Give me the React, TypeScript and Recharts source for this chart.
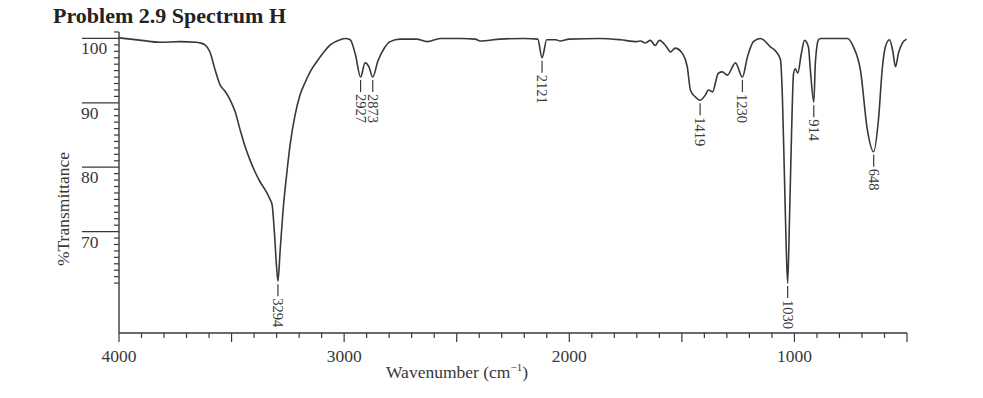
import React from "react";
import { ComposedChart, Line, Scatter, XAxis, YAxis } from "recharts";

const wavenumbers = [
  4000, 3900, 3818, 3729, 3660, 3640, 3618, 3596, 3573, 3551, 3529, 3507, 3484, 3462, 3440, 3418, 3396, 3373,
  3351, 3329, 3320, 3310, 3300, 3294, 3284, 3271, 3253, 3240, 3218, 3196, 3173, 3151, 3107, 3062, 3018, 2996,
  2973, 2950, 2927, 2907, 2890, 2873, 2850, 2820, 2796, 2751, 2680, 2631, 2573, 2480, 2418, 2396, 2307, 2200,
  2140, 2121, 2100, 2060, 2040, 2000, 1862, 1773, 1700, 1684, 1662, 1640, 1618, 1600, 1570, 1551, 1529, 1493,
  1476, 1462, 1440, 1419, 1396, 1382, 1364, 1338, 1320, 1298, 1262, 1231, 1209, 1182, 1151, 1107, 1076, 1062,
  1053, 1044, 1036, 1030, 1022, 1013, 1004, 996, 985, 970, 955, 938, 929, 914, 907, 893, 884, 764, 738, 707,
  676, 648, 627, 609, 596, 578, 564, 551, 538, 520, 502,
];
const transmittance = [
  100.1, 99.7, 99.4, 99.5, 99.4, 99.3, 99.0, 97.9, 95.1, 92.8, 91.8, 90.5, 88.6, 85.8, 83.2, 81.1, 79.3, 77.7,
  76.5, 75.0, 74.2, 70.0, 64.5, 62.3, 67.2, 73.4, 79.6, 83.5, 88.1, 91.2, 93.2, 94.8, 97.1, 99.0, 99.8, 100.0,
  99.8, 97.5, 94.0, 96.2, 95.6, 94.0, 96.5, 98.6, 99.5, 99.9, 99.9, 99.5, 100.0, 100.0, 99.9, 99.6, 99.9, 100.0,
  99.9, 97.0, 99.8, 99.8, 99.6, 99.9, 100.0, 99.8, 99.5, 99.6, 99.3, 99.7, 98.9, 99.7, 98.8, 97.9, 98.5, 97.4,
  95.6, 92.0, 90.9, 90.4, 91.2, 92.0, 91.7, 94.6, 94.8, 94.3, 96.2, 94.0, 97.1, 99.5, 100.0, 98.7, 97.7, 96.7,
  90.4, 78.0, 67.0, 62.0, 71.8, 85.0, 94.5, 95.3, 94.6, 97.5, 99.7, 98.7, 95.0, 90.1, 96.2, 99.8, 100.0, 100.0,
  98.7, 95.1, 85.8, 82.4, 87.3, 95.6, 98.7, 99.8, 98.2, 95.6, 97.7, 99.3, 99.9,
];
const peakLabels = ["3294", "2927", "2873", "2121", "1419", "1230", "1030", "914", "648"];
const peakWavenumbers = [3294, 2927, 2873, 2121, 1419, 1231, 1030, 914, 648];
const peakTransmittance = [62.3, 94.0, 94.0, 97.0, 90.4, 94.0, 62.0, 90.1, 82.4];
const xTicks = Array.from({ length: 36 }, (_, i) => 500 + i * 100);
const xLabels = [4000, 3000, 2000, 1000];
const yTicks = Array.from({ length: 40 }, (_, i) => 62 + i);
const yLabels = [70, 80, 90, 100];

const spectrum = wavenumbers.map((w, i) => ({ w, t: transmittance[i] }));
const peaks = peakLabels.map((label, i) => ({ w: peakWavenumbers[i], t: peakTransmittance[i], label }));

const FONT = '"Liberation Serif", "Times New Roman", serif';
const INK = "#383838";

const XTick = (props: any) => {
  const { x, y, payload } = props;
  const v = payload.value;
  const len = v % 500 === 0 ? 9 : 5;
  return (
    <g>
      <line x1={x} x2={x} y1={y} y2={y + len} stroke={INK} strokeWidth={1.2} />
      {xLabels.includes(v) && (
        <text x={x} y={y + 29} textAnchor="middle" fontSize={17.5} fontFamily={FONT} fill={INK}>
          {v}
        </text>
      )}
    </g>
  );
};

const YTick = (props: any) => {
  const { x, y, payload } = props;
  const v = payload.value;
  const major = yLabels.includes(v);
  return (
    <g>
      <line x1={major ? x - 37 : x - 5} x2={x} y1={y} y2={y} stroke={INK} strokeWidth={1.2} />
      {major && (
        <text x={x - 38} y={y + 16} fontSize={17.5} fontFamily={FONT} fill={INK}>
          {v}
        </text>
      )}
    </g>
  );
};

const PeakMark = (props: any) => {
  const { cx, cy, payload } = props;
  const top = cy + 3;
  return (
    <g>
      <line x1={cx} x2={cx} y1={top} y2={top + 12} stroke={INK} strokeWidth={1.2} />
      <text
        x={cx}
        y={top + 14}
        transform={`rotate(90, ${cx}, ${top + 14})`}
        dominantBaseline="central"
        fontSize={14.5}
        fontFamily={FONT}
        fill={INK}
      >
        {payload.label}
      </text>
    </g>
  );
};

export default function App() {
  return (
    <div style={{ marginTop: -8, marginLeft: -8 }}>
      <ComposedChart
        width={983}
        height={398}
        data={spectrum}
        margin={{ top: 32, right: 76, bottom: 35, left: 89 }}
      >
        <text x={53} y={23} fontSize={22} fontWeight="bold" fontFamily={FONT} fill="#222">
          Problem 2.9 Spectrum H
        </text>
        <XAxis
          dataKey="w"
          type="number"
          domain={[500, 4000]}
          reversed
          ticks={xTicks}
          interval={0}
          height={30}
          tickSize={0}
          tickMargin={0}
          tickLine={false}
          tick={<XTick />}
          axisLine={{ stroke: INK, strokeWidth: 1.4 }}
        />
        <YAxis
          type="number"
          domain={[54.25, 101]}
          allowDataOverflow
          ticks={yTicks}
          interval={0}
          width={30}
          tickSize={0}
          tickMargin={0}
          tickLine={false}
          tick={<YTick />}
          axisLine={{ stroke: INK, strokeWidth: 1.4 }}
        />
        <text
          x={63}
          y={209}
          transform="rotate(-90, 63, 209)"
          textAnchor="middle"
          dominantBaseline="central"
          fontSize={17.5}
          fontFamily={FONT}
          fill={INK}
        >
          %Transmittance
        </text>
        <text x={457} y={378} textAnchor="middle" fontSize={17.5} fontFamily={FONT} fill={INK}>
          Wavenumber (cm<tspan dy={-7} fontSize={11}>−1</tspan>
          <tspan dy={7}>)</tspan>
        </text>
        <Line
          dataKey="t"
          type="monotone"
          stroke={INK}
          strokeWidth={1.6}
          dot={false}
          activeDot={false}
          isAnimationActive={false}
        />
        <Scatter data={peaks} dataKey="t" shape={<PeakMark />} isAnimationActive={false} />
      </ComposedChart>
    </div>
  );
}
